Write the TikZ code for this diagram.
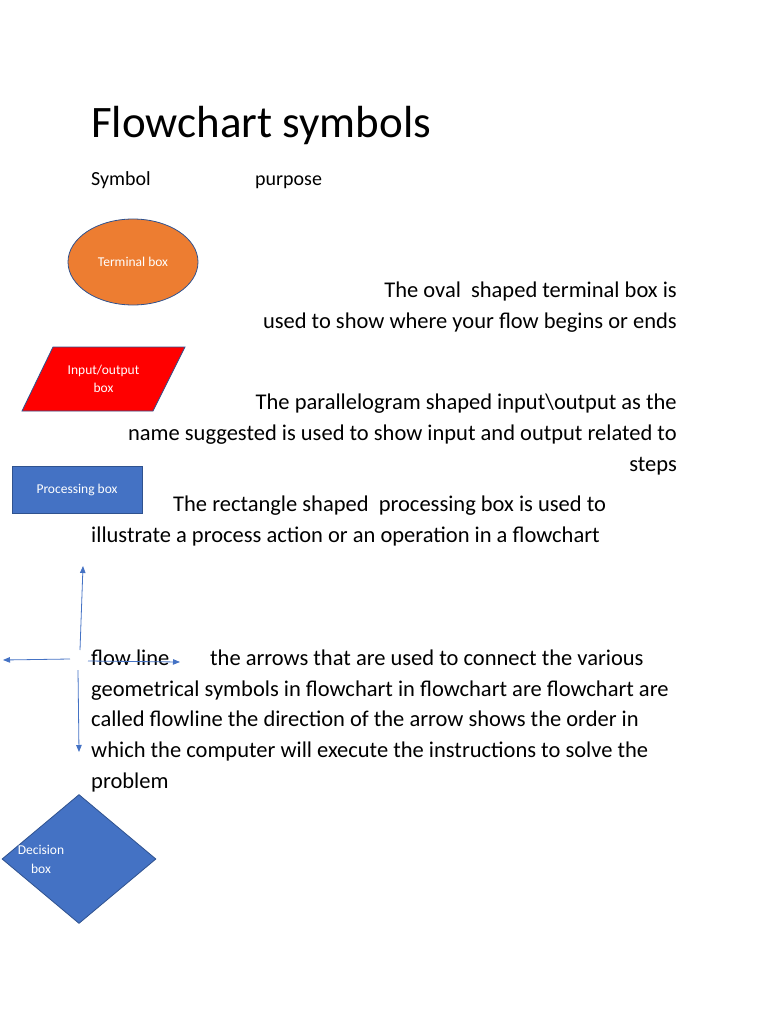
\documentclass[tikz,border=0pt]{standalone}
\usepackage{fontspec}
\setmainfont{Carlito}
\usepackage{tikz}
\usetikzlibrary{arrows.meta,shapes.geometric}

\definecolor{termorange}{HTML}{ED7D31}
\definecolor{iored}{HTML}{FF0000}
\definecolor{procblue}{HTML}{4472C4}
\definecolor{edgeblue}{HTML}{2F528F}

\begin{document}
\begin{tikzpicture}[x=1pt,y=-1pt,>={Triangle[length=7pt,width=5.5pt]},
  symbol node/.style={draw=edgeblue,line width=0.8pt,text=white,font=\fontsize{13.5}{16}\selectfont,inner sep=0pt},
  flow arrow/.style={->,draw=procblue,line width=0.8pt},
  body text/.style={font=\fontsize{22.5}{30.6}\selectfont,inner sep=0pt}]
	\tikzstyle{every node}=[font=\fontsize{22.5}{30.6}\selectfont]
	\useasboundingbox (0,0) rectangle (768,1024);

	% heading
	\node (title) [anchor=base west,inner sep=0pt,font=\fontsize{45}{52}\selectfont] at (91,138) {Flowchart symbols};
	\node (symbol) [anchor=base west,inner sep=0pt,font=\fontsize{20}{24}\selectfont] at (91,186) {Symbol};
	\node (purpose) [anchor=base west,inner sep=0pt,font=\fontsize{20}{24}\selectfont] at (255,186) {purpose};

	% symbols
	\node (terminal) [symbol node,ellipse,fill=termorange,minimum width=130pt,minimum height=86pt] at (133,262) {Terminal box};
	\draw [draw=edgeblue,line width=0.8pt,fill=iored] (53,347) coordinate (io a) -- (185,347) coordinate (io b)
	      -- (153,411) coordinate (io c) -- (22,411) coordinate (io d) -- cycle;
	\node (io) [text=white,font=\fontsize{13.5}{18}\selectfont,align=center,inner sep=0pt] at (103.5,379) {Input/output\\box};
	\node (process) [symbol node,rectangle,fill=procblue,minimum width=130pt,minimum height=47pt] at (77,489.5) {Processing box};
	\node (decision) [symbol node,diamond,fill=procblue,minimum width=154pt,minimum height=129pt] at (79,859) {};
	\node (decision text) [text=white,font=\fontsize{13.5}{19}\selectfont,align=center,inner sep=0pt] at (41,859) {Decision\\box};

	% flow lines
	\coordinate (up start) at (80,650);
	\coordinate (up end) at (83,566);
	\coordinate (down start) at (78,670);
	\coordinate (down end) at (79,752);
	\coordinate (left start) at (70,659);
	\coordinate (left end) at (3,660);
	\coordinate (right start) at (88,661);
	\coordinate (right end) at (180,662);
	\draw [flow arrow] (up start) -- (up end);
	\draw [flow arrow] (down start) -- (down end);
	\draw [flow arrow] (left start) -- (left end);

	% texts (anchored on the last line)
	\node (oval text) [body text,anchor=base east,align=right] at (677,328)
	  {The oval\ \ shaped terminal box is\\used to show where your flow begins or ends};
	\node (io text) [body text,anchor=base east,align=right] at (677,471)
	  {The parallelogram shaped input\textbackslash output as the\\name suggested is used to show input and output related to\\steps};
	\node (process text) [body text,anchor=base west,align=left] at (91,542)
	  {\hspace*{82pt}The rectangle shaped\ \ processing box is used to\\illustrate a process action or an operation in a flowchart};
	\node (flow text) [body text,anchor=base west,align=left] at (91,788)
	  {\makebox[119pt][l]{flow line}the arrows that are used to connect the various\\geometrical symbols in flowchart in flowchart are flowchart are\\called flowline the direction of the arrow shows the order in\\which the computer will execute the instructions to solve the\\problem};
	\draw [flow arrow] (right start) -- (right end);
\end{tikzpicture}
\end{document}
